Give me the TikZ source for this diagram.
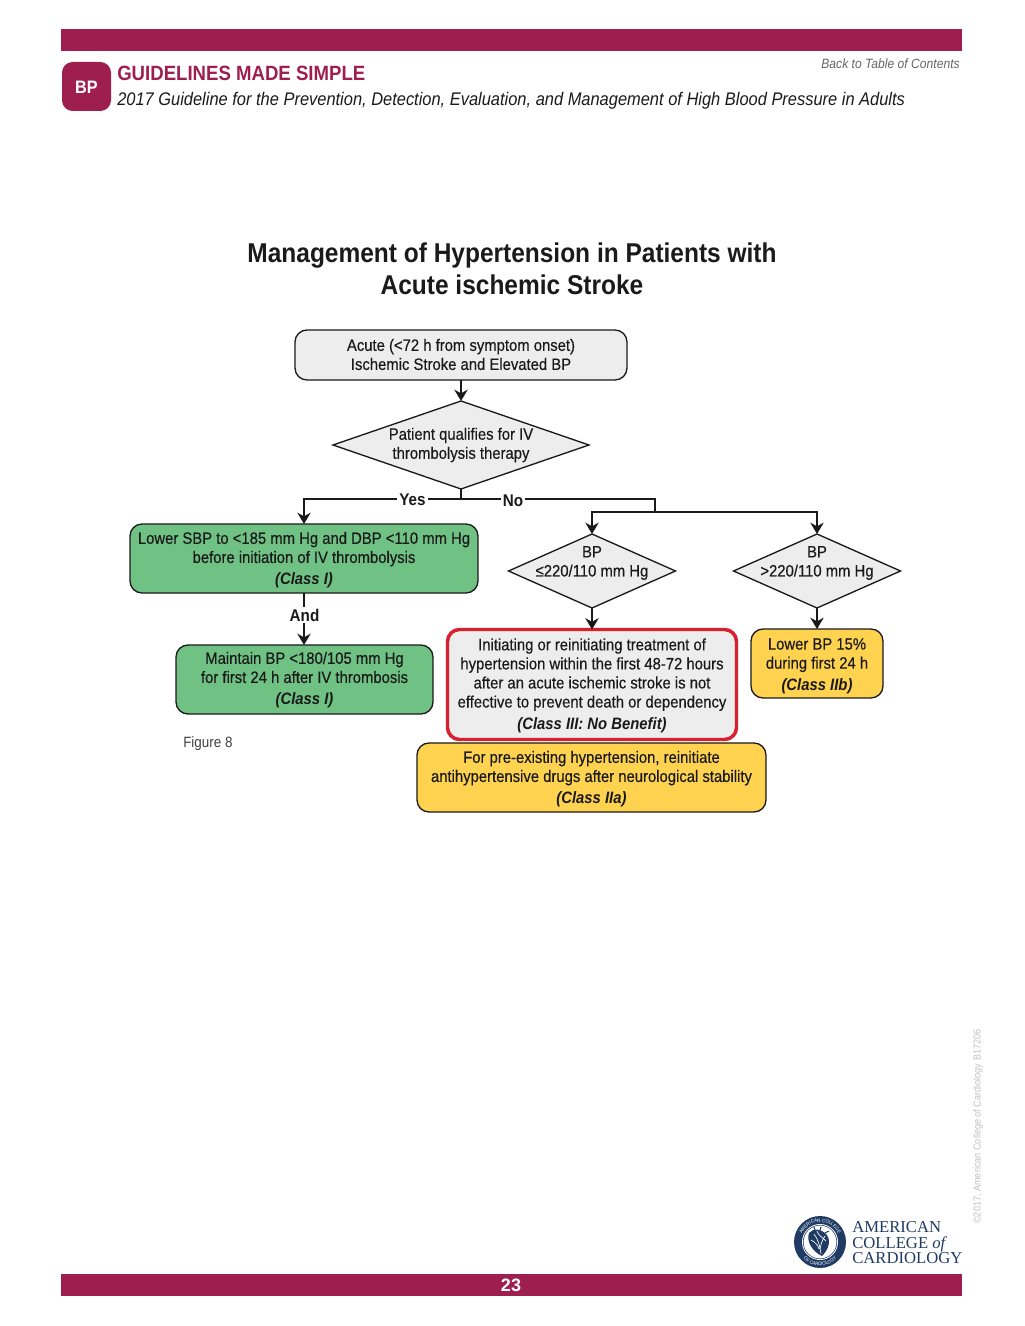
\documentclass[tikz,border=0pt]{standalone}
\usepackage{fontspec}
\setmainfont{Liberation Sans}[FakeStretch=0.90,UprightFeatures={FakeBold=0.35}]
\newfontfamily\lightsans{Liberation Sans}[FakeStretch=0.90]
\newfontfamily\serifx{Liberation Serif}
\newfontfamily\widesans{Liberation Sans}
\usetikzlibrary{arrows.meta,shapes.geometric,decorations.text}
\definecolor{maroon}{HTML}{9E1F4F}
\definecolor{boxgray}{HTML}{EDEDEE}
\definecolor{boxgreen}{HTML}{6FC184}
\definecolor{boxyellow}{HTML}{FFD24F}
\definecolor{alertred}{HTML}{D9202F}
\definecolor{inkblack}{HTML}{1A1A1A}
\definecolor{acc}{HTML}{1F3A63}
\tikzset{
 body/.style={font=\fontsize{12.37pt}{14.3pt}\selectfont,text=inkblack,align=center},
 flowbox/.style={draw=inkblack,line width=1pt,rounded corners=9pt,inner sep=0pt,outer sep=0pt,anchor=north west},
 flowdia/.style={diamond,draw=inkblack,line width=1pt,fill=boxgray,inner sep=0pt,outer sep=0pt,aspect=2.2},
 txt/.style={body,inner sep=0pt},
 lab/.style={font=\bfseries\fontsize{12.7pt}{14pt}\selectfont,text=inkblack,fill=white,inner sep=1.5pt},
 conn/.style={line width=1.5pt,draw=inkblack},
 arrow/.style={conn,-{Stealth[length=8.5pt,width=10pt]}},
}
\newcommand{\cls}[1]{\\[2pt]\textbf{\textit{#1}}}
\begin{document}
\begin{tikzpicture}[x=0.75pt,y=-0.75pt]
\useasboundingbox (0,0) rectangle (1024,1326);
% header
\fill[maroon] (61,29) rectangle (962,51);
\fill[maroon,rounded corners=8pt] (62,62) rectangle (111,111);
\node[font=\bfseries\fontsize{13.5pt}{16pt}\selectfont,text=white] (bp) at (86.5,87) {BP};
\node[anchor=west,inner sep=0,font=\bfseries\fontsize{15.5pt}{18pt}\selectfont,text=maroon] (gms) at (117,73) {GUIDELINES MADE SIMPLE};
\node[anchor=west,inner sep=0,font=\itshape\fontsize{13.7pt}{16pt}\selectfont,text=inkblack] (sub) at (117,100.5) {2017 Guideline for the Prevention, Detection, Evaluation, and Management of High Blood Pressure in Adults};
\node[anchor=east,inner sep=0,font=\itshape\fontsize{10.1pt}{12pt}\selectfont,text=black!60] (back) at (960,64) {Back to Table of Contents};
% title
\node[inner sep=0,align=center,text=inkblack,font=\bfseries\fontsize{20.4pt}{24pt}\selectfont] (title) at (512,269) {Management of Hypertension in Patients with\\Acute ischemic Stroke};
% flow boxes
\node[flowbox,fill=boxgray,minimum width=332*0.75pt,minimum height=50*0.75pt] (start) at (295,330) {};
\node[txt] (startt) at (461,354.5) {Acute (<72 h from symptom onset)\\Ischemic Stroke and Elevated BP};
\node[flowdia,minimum width=256*0.75pt,minimum height=88*0.75pt] (q) at (461,445) {};
\node[txt] (qt) at (461,445) {Patient qualifies for IV\\thrombolysis therapy};
\node[flowbox,fill=boxgreen,minimum width=348*0.75pt,minimum height=69*0.75pt] (lower) at (130,524) {};
\node[txt] (lowert) at (304,560) {Lower SBP to <185 mm Hg and DBP <110 mm Hg\\before initiation of IV thrombolysis\cls{(Class I)}};
\node[flowbox,fill=boxgreen,minimum width=257*0.75pt,minimum height=69*0.75pt] (maintain) at (176,645) {};
\node[txt] (maintaint) at (304.5,680) {Maintain BP <180/105 mm Hg\\for first 24 h after IV thrombosis\cls{(Class I)}};
\node[flowdia,minimum width=167*0.75pt,minimum height=74*0.75pt] (d1) at (592,571) {};
\node[txt] (d1t) at (592,563) {BP\\≤220/110 mm Hg};
\node[flowdia,minimum width=167*0.75pt,minimum height=74*0.75pt] (d2) at (817,571) {};
\node[txt] (d2t) at (817,563) {BP\\>220/110 mm Hg};
\node[flowbox,draw=alertred,line width=2.6pt,fill=boxgray,minimum width=289*0.75pt,minimum height=110*0.75pt] (red) at (447.5,629.5) {};
\node[txt] (redt) at (592,685.5) {Initiating or reinitiating treatment of\\hypertension within the first 48-72 hours\\after an acute ischemic stroke is not\\effective to prevent death or dependency\cls{(Class III: No Benefit)}};
\node[flowbox,fill=boxyellow,minimum width=132*0.75pt,minimum height=69*0.75pt] (yr) at (751,629) {};
\node[txt] (yrt) at (817,666) {Lower BP 15\%\\during first 24 h\cls{(Class IIb)}};
\node[flowbox,fill=boxyellow,minimum width=349*0.75pt,minimum height=69*0.75pt] (yb) at (417,743) {};
\node[txt] (ybt) at (591.5,779) {For pre-existing hypertension, reinitiate\\antihypertensive drugs after neurological stability\cls{(Class IIa)}};
\node[anchor=west,inner sep=0,font=\lightsans\fontsize{11.2pt}{13pt}\selectfont,text=black!75] (fig) at (183,744) {Figure 8};
% labels and connectors
\node[lab] (yes) at (412.5,500) {Yes};
\node[lab] (no) at (513,501) {No};
\node[lab] (and) at (304.5,615) {And};
\coordinate (jn) at (461,499);
\coordinate (split) at (655,512);
\draw[arrow] (start.south) -- (q.north);
\draw[conn] (q.south) -- (jn);
\draw[conn] (jn) -- (yes.east |- jn);
\draw[conn] (jn) -- (no.west |- jn);
\draw[arrow] (yes.west |- jn) -| (lower.north);
\draw[conn] (no.east |- jn) -| (split);
\draw[arrow] (split) -| (d1.north);
\draw[arrow] (split) -| (d2.north);
\draw[conn] (lower.south) -- (and.north -| lower.south);
\draw[arrow] (and.south -| lower.south) -- (maintain.north -| lower.south);
\draw[arrow] (d1.south) -- (red.north);
\draw[arrow] (d2.south) -- (yr.north);
% bottom band
\fill[maroon] (61,1274) rectangle (962,1296);
\node[font=\widesans\bfseries\fontsize{13.5pt}{14pt}\selectfont,text=white] (pg) at (511,1285) {23};
\node[rotate=90,anchor=west,inner sep=0,font=\lightsans\fontsize{7.6pt}{8pt}\selectfont,text=black!25] (copy) at (978,1224) {©2017, American College of Cardiology  B17206};
% logo
\begin{scope}[shift={(820,1242)},x=0.75pt,y=0.75pt]
\fill[acc] (0,0) circle[radius=26];
\fill[white] (0,0) circle[radius=18];
\draw[acc,line width=0.4pt] (0,0) circle[radius=16.8];
\path[decorate,decoration={text along path,text align=center,text color=white,text={|\lightsans\fontsize{3.7pt}{4pt}\selectfont|AMERICAN COLLEGE}}] (200:20) arc[start angle=200,end angle=-20,radius=20];
\path[decorate,decoration={text along path,text align=center,text color=white,text={|\lightsans\fontsize{3.7pt}{4pt}\selectfont|OF CARDIOLOGY}}] (215:23.6) arc[start angle=215,end angle=325,radius=23.6];
\fill[acc] (-11,9) .. controls (-7,14) and (1,13) .. (5,9) .. controls (12,3) and (9,-7) .. (2,-14) .. controls (-7,-10) and (-14,0) .. (-11,9) -- cycle;
\draw[white,line width=0.5pt] (-6,8) .. controls (-2,3) and (0,-4) .. (1,-12) (5,6) .. controls (2,2) and (1,-2) .. (0,-7) (-9,2) .. controls (-5,0) and (-2,-3) .. (-1,-7) (-3,11) .. controls (-2,7) and (2,5) .. (6,1);
\draw[acc,line width=0.8pt] (-5,12) -- (-6,15) (0,12) -- (1,15) (5,9) -- (9,11);
\end{scope}
\node[anchor=west,inner sep=0,align=left,text=acc,font=\serifx\fontsize{12.5pt}{11.6pt}\selectfont] (acct) at (852,1243) {AMERICAN\\COLLEGE \textit{of}\\CARDIOLOGY};
\end{tikzpicture}
\end{document}
